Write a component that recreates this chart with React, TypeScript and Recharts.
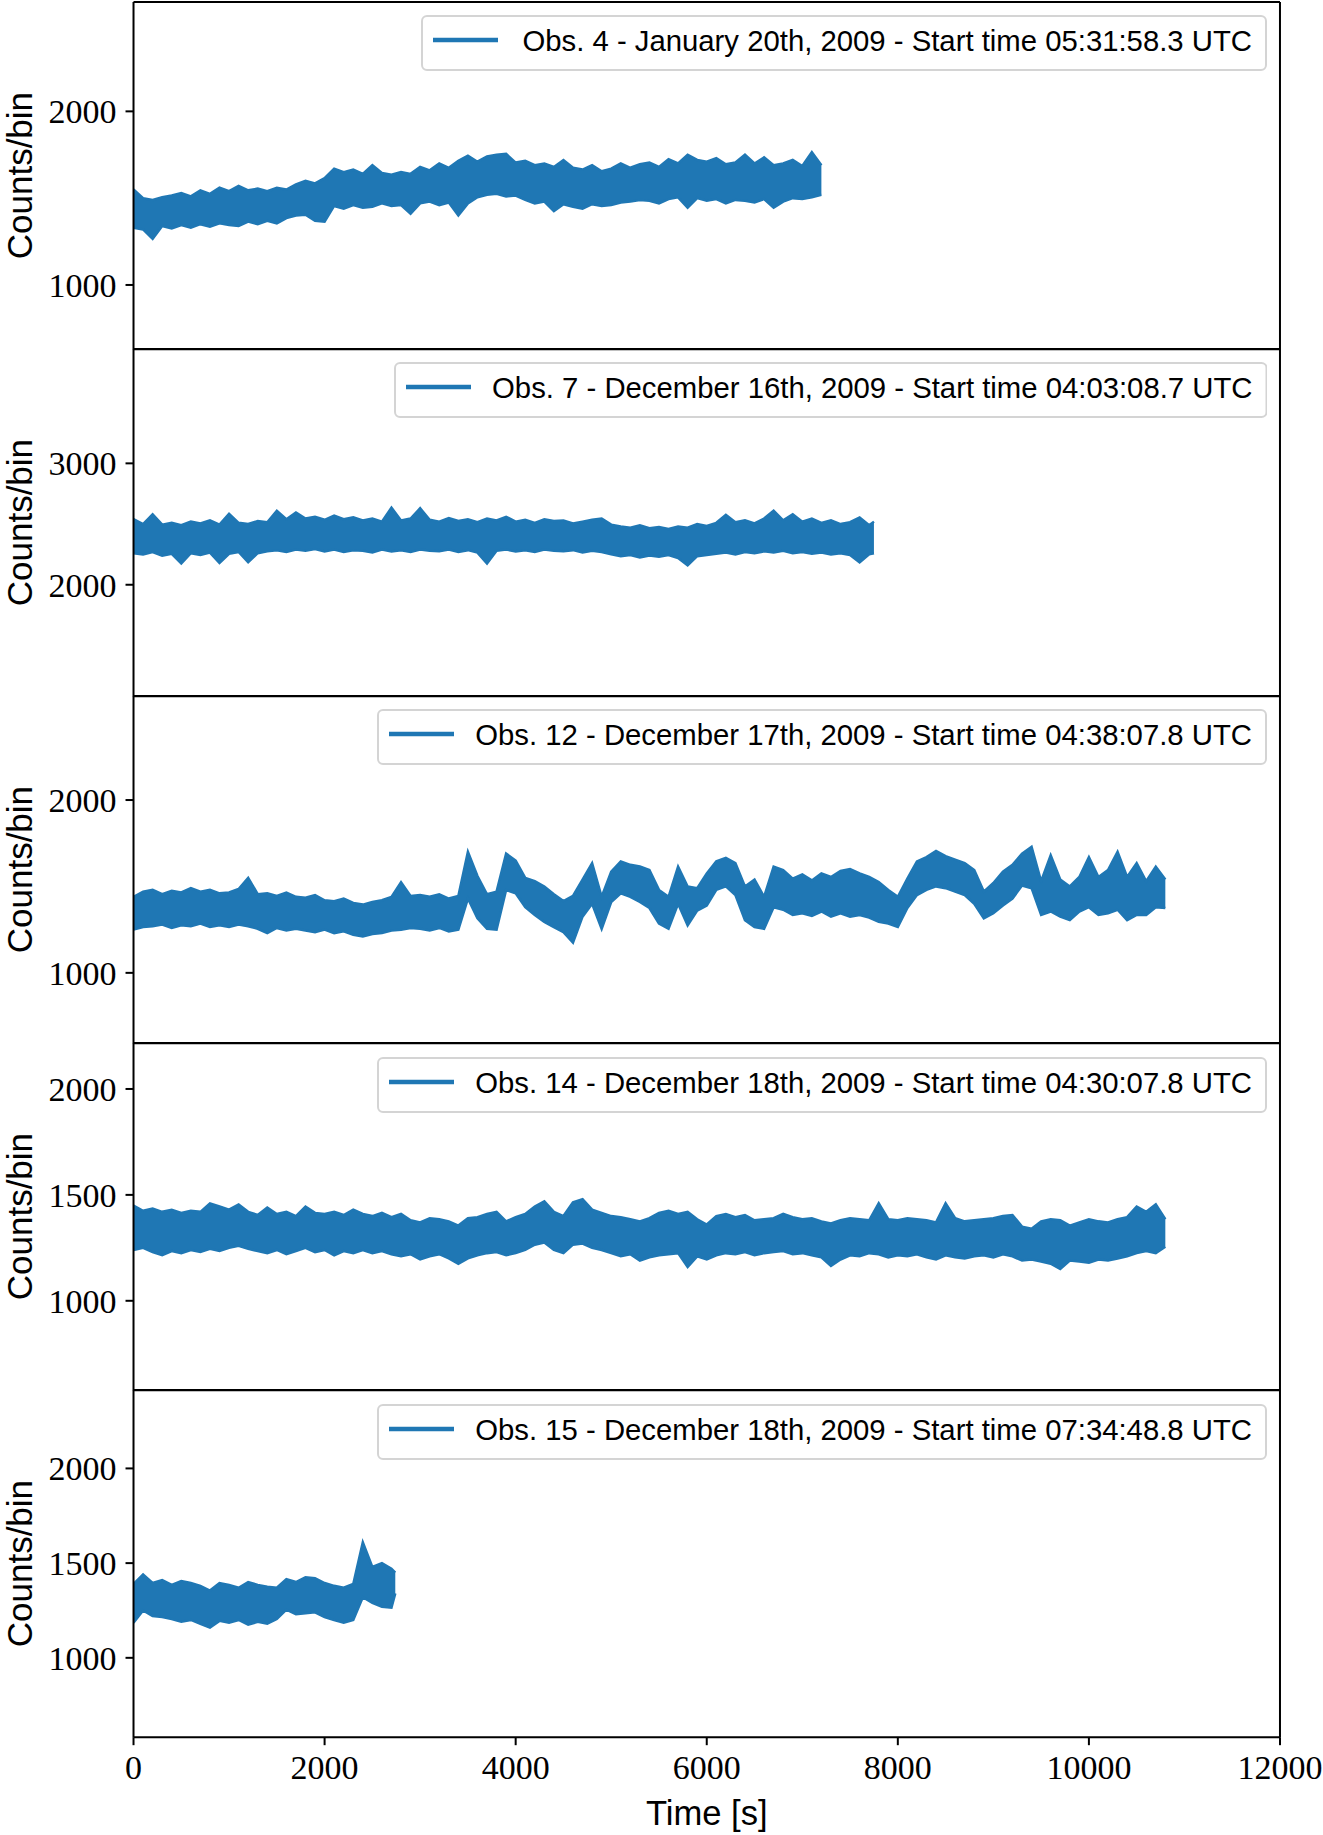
import React from "react";
import { ComposedChart, Area, XAxis, YAxis, Legend } from "recharts";

// Envelope of each light curve (upper / lower edge of the noisy band),
// read off the plot every STEP seconds. Last sample is at the end time.
const STEP = 100;

const xTicks = [0, 2000, 4000, 6000, 8000, 10000, 12000];

// Obs. 4
const obs4End = 7200;
const obs4Hi = [
  1550, 1500, 1490, 1505, 1515, 1530, 1510, 1545, 1525, 1560,
  1540, 1570, 1545, 1555, 1540, 1560, 1550, 1580, 1600, 1585,
  1615, 1670, 1650, 1665, 1640, 1690, 1645, 1635, 1650, 1640,
  1680, 1660, 1700, 1675, 1715, 1745, 1710, 1740, 1750, 1755,
  1705, 1715, 1690, 1700, 1680, 1720, 1675, 1665, 1690, 1655,
  1670, 1700, 1675, 1695, 1705, 1680, 1725, 1700, 1750, 1720,
  1710, 1730, 1695, 1705, 1750, 1700, 1735, 1690, 1700, 1720,
  1685, 1765, 1690,
];
const obs4Lo = [
  1330, 1320, 1265, 1340, 1325, 1345, 1330, 1350, 1335, 1355,
  1345, 1340, 1365, 1350, 1370, 1355, 1385, 1400, 1405, 1370,
  1365, 1455, 1440, 1460, 1445, 1450, 1470, 1455, 1460, 1410,
  1470, 1480, 1460, 1475, 1400, 1470, 1505, 1520, 1525, 1510,
  1515, 1490, 1470, 1480, 1425, 1465, 1450, 1440, 1465, 1455,
  1460, 1475, 1480, 1490, 1485, 1470, 1495, 1505, 1445, 1500,
  1485, 1495, 1470, 1490, 1485, 1475, 1495, 1445, 1480, 1500,
  1495, 1505, 1520,
];

// Obs. 7
const obs7End = 7750;
const obs7Hi = [
  2540, 2500, 2580, 2495, 2510, 2490, 2520, 2505, 2530, 2495,
  2585, 2510, 2500, 2525, 2515, 2610, 2540, 2595, 2545, 2560,
  2535, 2570, 2540, 2555, 2530, 2545, 2520, 2635, 2530, 2545,
  2630, 2535, 2520, 2550, 2525, 2540, 2515, 2545, 2530, 2560,
  2520, 2535, 2510, 2540, 2525, 2530, 2505, 2520, 2535, 2545,
  2495, 2480, 2470, 2490, 2465, 2475, 2460, 2480, 2470, 2500,
  2485, 2510, 2575, 2515, 2530, 2505, 2545, 2610, 2530, 2580,
  2520, 2545, 2510, 2530, 2500, 2515, 2555, 2490, 2520,
];
const obs7Lo = [
  2260, 2250, 2270, 2240, 2255, 2175, 2260, 2245, 2265, 2180,
  2255, 2270, 2185, 2260, 2275, 2285, 2270, 2290, 2280, 2295,
  2275, 2290, 2270, 2285, 2280, 2265, 2290, 2275, 2285, 2270,
  2290, 2280, 2275, 2290, 2270, 2285, 2265, 2175, 2280, 2290,
  2275, 2285, 2270, 2290, 2280, 2275, 2285, 2265, 2280, 2270,
  2250, 2235, 2245, 2225, 2240, 2230, 2245, 2220, 2160, 2235,
  2245, 2255, 2265, 2250, 2270, 2260, 2275, 2265, 2280, 2260,
  2270, 2255, 2265, 2250, 2260, 2245, 2185, 2250, 2260,
];

// Obs. 12
const obs12End = 10800;
const obs12Hi = [
  1440, 1470, 1480, 1455, 1475, 1465, 1490, 1470, 1480, 1460,
  1465, 1485, 1550, 1455, 1460, 1445, 1465, 1440, 1435, 1450,
  1420, 1415, 1430, 1405, 1395, 1410, 1420, 1440, 1525, 1445,
  1450, 1440, 1455, 1430, 1445, 1700, 1560, 1455, 1470, 1690,
  1650, 1550, 1530, 1500, 1455, 1415, 1445, 1540, 1635, 1440,
  1585, 1645, 1625, 1615, 1595, 1480, 1440, 1615, 1500, 1490,
  1575, 1645, 1665, 1635, 1500, 1540, 1440, 1615, 1595, 1545,
  1570, 1535, 1575, 1555, 1590, 1600, 1575, 1555, 1525, 1480,
  1440, 1545, 1645, 1670, 1705, 1675, 1655, 1635, 1595, 1470,
  1520, 1585, 1625, 1690, 1730, 1530, 1680, 1540, 1500, 1555,
  1670, 1555, 1595, 1700, 1555, 1635, 1530, 1615, 1540,
];
const obs12Lo = [
  1250, 1265, 1270, 1280, 1260, 1275, 1270, 1285, 1265, 1275,
  1265, 1280, 1270, 1255, 1230, 1260, 1245, 1255, 1245, 1235,
  1250, 1230, 1240, 1220, 1210, 1225, 1230, 1245, 1250, 1260,
  1255, 1245, 1260, 1240, 1250, 1430, 1315, 1255, 1250, 1480,
  1460, 1380, 1335, 1295, 1265, 1235, 1175, 1325, 1400, 1255,
  1410, 1460, 1440, 1410, 1375, 1285, 1255, 1400, 1275, 1360,
  1390, 1480, 1500, 1450, 1305, 1265, 1255, 1380, 1365, 1335,
  1345, 1330, 1355, 1325, 1345, 1325, 1335, 1320, 1295, 1285,
  1265, 1375, 1450, 1480, 1500, 1490, 1470, 1450, 1400, 1315,
  1345, 1390, 1430, 1505, 1490, 1335, 1355, 1325, 1305, 1355,
  1380, 1335, 1345, 1365, 1305, 1335, 1335, 1380, 1375,
];

// Obs. 14
const obs14End = 10800;
const obs14Hi = [
  1450, 1425, 1435, 1420, 1430, 1415, 1425, 1420, 1460, 1445,
  1430, 1455, 1420, 1405, 1440, 1410, 1420, 1400, 1445, 1415,
  1410, 1420, 1405, 1430, 1410, 1400, 1415, 1395, 1410, 1380,
  1370, 1390, 1385, 1375, 1355, 1390, 1395, 1410, 1420, 1375,
  1395, 1410, 1445, 1470, 1420, 1400, 1465, 1480, 1430, 1415,
  1400, 1395, 1385, 1375, 1390, 1415, 1425, 1410, 1420, 1385,
  1360, 1400, 1410, 1395, 1405, 1380, 1385, 1390, 1410, 1395,
  1385, 1390, 1375, 1365, 1380, 1390, 1385, 1380, 1460, 1385,
  1380, 1390, 1385, 1380, 1370, 1460, 1390, 1375, 1380, 1385,
  1390, 1400, 1405, 1350, 1340, 1375, 1385, 1380, 1355, 1370,
  1385, 1375, 1370, 1385, 1395, 1445, 1420, 1455, 1385,
];
const obs14Lo = [
  1240, 1250, 1230, 1215, 1235, 1225, 1240, 1230, 1245, 1235,
  1250, 1260, 1245, 1235, 1225, 1240, 1220, 1235, 1250, 1230,
  1240, 1215, 1235, 1225, 1240, 1225, 1235, 1220, 1210, 1220,
  1195, 1210, 1220, 1200, 1175, 1200, 1215, 1225, 1230, 1215,
  1225, 1240, 1265, 1275, 1240, 1225, 1265, 1270, 1250, 1240,
  1225, 1210, 1220, 1190, 1205, 1215, 1220, 1225, 1160, 1210,
  1195, 1215, 1225, 1220, 1230, 1215, 1225, 1230, 1235, 1220,
  1225, 1215, 1205, 1165, 1195, 1215, 1210, 1225, 1220, 1205,
  1215, 1210, 1220, 1205, 1195, 1215, 1205, 1200, 1210, 1215,
  1205, 1220, 1210, 1190, 1195, 1185, 1175, 1150, 1190, 1185,
  1180, 1195, 1190, 1200, 1210, 1225, 1235, 1225, 1255,
];

// Obs. 15
const obs15End = 2740;
const obs15Hi = [
  1390, 1440, 1395, 1410, 1385, 1405, 1395, 1380, 1355, 1395,
  1385, 1370, 1400, 1385, 1375, 1370, 1415, 1400, 1425, 1420,
  1395, 1380, 1370, 1390, 1610, 1480, 1500, 1470, 1450,
];
const obs15Lo = [
  1185, 1250, 1220, 1215, 1205, 1190, 1200, 1180, 1160, 1195,
  1185, 1200, 1175, 1190, 1180, 1205, 1255, 1230, 1235, 1240,
  1215, 1200, 1185, 1200, 1320, 1290, 1270, 1265, 1340,
];

const legendLabels = [
  "Obs. 4 - January 20th, 2009 - Start time 05:31:58.3 UTC",
  "Obs. 7 - December 16th, 2009 - Start time 04:03:08.7 UTC",
  "Obs. 12 - December 17th, 2009 - Start time 04:38:07.8 UTC",
  "Obs. 14 - December 18th, 2009 - Start time 04:30:07.8 UTC",
  "Obs. 15 - December 18th, 2009 - Start time 07:34:48.8 UTC",
];

const yDomains: [number, number][] = [
  [630, 2630],
  [1082, 3942],
  [593, 2602],
  [578, 2217],
  [581, 2414],
];

const yTicks = [
  [1000, 2000],
  [2000, 3000],
  [1000, 2000],
  [1000, 1500, 2000],
  [1000, 1500, 2000],
];

// layout
const W = 1323;
const H = 1835;
const FRAME_TOP = 1.5;
const PANEL_H = 347.2;
const PAD = 4;
const PLOT_LEFT = 133.5;
const PLOT_RIGHT = 1280;
const LEGEND_W = [844, 871.5, 888, 888, 888];
const BLUE = "#1f77b4";
const SERIF = "'Liberation Serif', 'DejaVu Serif', serif";
const SANS = "'Liberation Sans', Arial, sans-serif";

function buildRows(hi: number[], lo: number[], end: number) {
  return hi.map((h, i) => ({
    t: i === hi.length - 1 ? end : i * STEP,
    range: [lo[i], h],
  }));
}

const series = [
  buildRows(obs4Hi, obs4Lo, obs4End),
  buildRows(obs7Hi, obs7Lo, obs7End),
  buildRows(obs12Hi, obs12Lo, obs12End),
  buildRows(obs14Hi, obs14Lo, obs14End),
  buildRows(obs15Hi, obs15Lo, obs15End),
];

function YLabel({ viewBox }: any) {
  if (!viewBox) return null;
  const x = 32;
  const cy = viewBox.y + viewBox.height / 2;
  return (
    <text
      x={x}
      y={cy}
      transform={`rotate(-90 ${x} ${cy})`}
      textAnchor="middle"
      fontFamily={SANS}
      fontSize={35}
      fill="#000"
    >
      Counts/bin
    </text>
  );
}

function XLabel({ viewBox }: any) {
  if (!viewBox) return null;
  const cx = viewBox.x + viewBox.width / 2;
  return (
    <text
      x={cx}
      y={viewBox.y + 87.5}
      textAnchor="middle"
      fontFamily={SANS}
      fontSize={34.6}
      fill="#000"
    >
      Time [s]
    </text>
  );
}

function LegendBox({ payload, boxW }: any) {
  const item = payload && payload[0];
  if (!item) return null;
  return (
    <svg width={boxW + 2} height={56} style={{ display: "block" }}>
      <rect
        x={1}
        y={1}
        width={boxW}
        height={54}
        rx={5}
        fill="#fff"
        fillOpacity={0.8}
        stroke="#d4d4d4"
        strokeWidth={2}
      />
      <line x1={12} x2={77} y1={25} y2={25} stroke={BLUE} strokeWidth={4.5} />
      <text
        x={boxW - 13}
        y={36}
        textAnchor="end"
        fontFamily={SANS}
        fontSize={29.3}
        fill="#000"
      >
        {item.value}
      </text>
    </svg>
  );
}

function Panel({ idx }: { idx: number }) {
  const last = idx === series.length - 1;
  const top = FRAME_TOP + idx * PANEL_H - PAD;
  const xAxisH = last ? H - (FRAME_TOP + 5 * PANEL_H) : 1;
  const height = last ? H - top : PANEL_H + 2 * PAD;
  const spine = { stroke: "#000", strokeWidth: 2 };

  return (
    <div style={{ position: "absolute", left: 0, top }}>
      <ComposedChart
        width={W}
        height={height}
        data={series[idx]}
        margin={{
          top: PAD - 1,
          right: W - PLOT_RIGHT - 1,
          bottom: last ? 0 : PAD - 1,
          left: 0,
        }}
      >
        <XAxis
          dataKey="t"
          type="number"
          domain={[0, 12000]}
          ticks={xTicks}
          interval={0}
          allowDataOverflow
          height={xAxisH}
          axisLine={spine}
          tick={last ? { fontSize: 34, fill: "#000", fontFamily: SERIF } : false}
          tickLine={last ? spine : false}
          tickSize={8}
          tickMargin={10}
          label={last ? <XLabel /> : undefined}
        />
        <XAxis
          xAxisId="top"
          orientation="top"
          dataKey="t"
          type="number"
          domain={[0, 12000]}
          height={1}
          axisLine={spine}
          tick={false}
          tickLine={false}
        />
        <YAxis
          yAxisId="left"
          type="number"
          domain={yDomains[idx]}
          ticks={yTicks[idx]}
          interval={0}
          allowDataOverflow
          width={PLOT_LEFT}
          axisLine={spine}
          tickLine={spine}
          tickSize={8}
          tickMargin={9}
          tick={{ fontSize: 34, fill: "#000", fontFamily: SERIF }}
          label={<YLabel />}
        />
        <YAxis
          yAxisId="right"
          orientation="right"
          type="number"
          domain={yDomains[idx]}
          width={1}
          axisLine={spine}
          tick={false}
          tickLine={false}
        />
        <Legend
          layout="vertical"
          align="center"
          verticalAlign="middle"
          wrapperStyle={{
            top: PAD + 13.5,
            right: W - 1267,
            left: "auto",
            width: LEGEND_W[idx] + 2,
            height: 56,
          }}
          content={(props: any) => <LegendBox {...props} boxW={LEGEND_W[idx]} />}
        />
        <Area
          yAxisId="left"
          type="linear"
          dataKey="range"
          name={legendLabels[idx]}
          stroke={BLUE}
          strokeWidth={2.5}
          fill={BLUE}
          fillOpacity={1}
          dot={false}
          activeDot={false}
          isAnimationActive={false}
        />
      </ComposedChart>
    </div>
  );
}

export default function App() {
  return (
    <div
      style={{
        position: "absolute",
        left: 0,
        top: 0,
        width: W,
        height: H,
        background: "#fff",
        overflow: "hidden",
      }}
    >
      {series.map((_, i) => (
        <Panel key={i} idx={i} />
      ))}
    </div>
  );
}
